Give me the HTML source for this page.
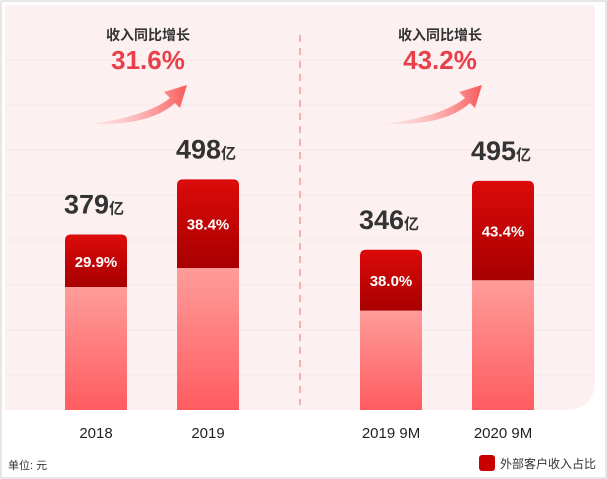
<!DOCTYPE html>
<html><head><meta charset="utf-8"><style>
body{margin:0;width:607px;height:479px;background:#fff;overflow:hidden;font-family:"Liberation Sans","Noto Sans CJK SC",sans-serif}
</style></head><body>
<svg width="607" height="479" style="display:block">
<defs>
<linearGradient id="lo" x1="0" y1="0" x2="0" y2="1"><stop offset="0" stop-color="#ff9c9a"/><stop offset="1" stop-color="#ff5c60"/></linearGradient>
<linearGradient id="hi" x1="0" y1="0" x2="0" y2="1"><stop offset="0" stop-color="#dc0a0a"/><stop offset="1" stop-color="#a80000"/></linearGradient>
<linearGradient id="ar" x1="0" y1="0" x2="1" y2="0"><stop offset="0" stop-color="#ffd0d0" stop-opacity="0.3"/><stop offset="1" stop-color="#f85a5a"/></linearGradient>
</defs>
<rect x="1" y="1" width="605" height="477" fill="none" stroke="#ccc"/>
<path d="M5 5 H595 V380 Q595 410 565 410 H5 Z" fill="#fdf0f0"/>
<g id="grid" stroke="#f9e8e8" stroke-width="1"></g>
<line x1="300" y1="35" x2="300" y2="405" stroke="#f07070" stroke-dasharray="7,6"/>
<g id="bars"></g>
<g>
<text x="148" y="40" text-anchor="middle" font-size="14" font-weight="bold" fill="#333">收入同比增长</text>
<text x="148" y="69" text-anchor="middle" font-size="26" font-weight="bold" fill="#e8404a">31.6%</text>
<path d="M90 124 Q148 116 170 98 L164 92 L187 85 L180 108 L175 103 Q150 126 90 124 Z" fill="url(#ar)"/>
</g>
<g>
<text x="440" y="40" text-anchor="middle" font-size="14" font-weight="bold" fill="#333">收入同比增长</text>
<text x="440" y="69" text-anchor="middle" font-size="26" font-weight="bold" fill="#e8404a">43.2%</text>
<path d="M385 124 Q443 116 465 98 L459 92 L482 85 L475 108 L470 103 Q445 126 385 124 Z" fill="url(#ar)"/>
</g>
<text x="8" y="469" font-size="11" fill="#333">单位: 元</text>
<rect x="479" y="455" width="16" height="16" rx="3" fill="#c80000"/>
<text x="500" y="468" font-size="12" fill="#333">外部客户收入占比</text>
</svg>
<script>
const categories=["2018","2019","2019 9M","2020 9M"];
const totals=[379,498,346,495];
const shares=[29.9,38.4,38.0,43.4];
const xs=[65,177,360,472];const bw=62;const base=410;const k=0.463;
const NS="http://www.w3.org/2000/svg";
function mk(t,a,p){const e=document.createElementNS(NS,t);for(const q in a)e.setAttribute(q,a[q]);p.appendChild(e);return e;}
const g=document.getElementById('bars');const gr=document.getElementById('grid');
for(let y=60;y<410;y+=45){const l=mk('line',{x1:5,x2:595,y1:y,y2:y},gr);}
function yv(v){return base-v*k;}
categories.forEach((c,i)=>{
 const x=xs[i],top=yv(totals[i]),h=base-top,hh=h*shares[i]/100,mid=top+hh;
 const lo=mk('rect',{x:x,y:mid,width:bw,height:base-mid,fill:'url(#lo)'},g);
 
 
 const r=6;
 const hi=mk('path',{d:`M${x} ${mid} V${top+r} Q${x} ${top} ${x+r} ${top} H${x+bw-r} Q${x+bw} ${top} ${x+bw} ${top+r} V${mid} Z`,fill:'url(#hi)'},g);
 
 
 const st=mk('text',{x:x+bw/2,y:mid-hh/2+6,'text-anchor':'middle','font-size':15,'font-weight':'bold',fill:'#fff'},g);
 st.textContent=shares[i].toFixed(1)+'%';
 
 
 const vt=mk('text',{x:x+bw/2-2,y:top-21,'text-anchor':'middle',fill:'#333'},g);
 
 
 const t1=mk('tspan',{'font-size':27,'font-weight':'bold'},vt);t1.textContent=totals[i];
 const t2=mk('tspan',{'font-size':15,'font-weight':'bold'},vt);t2.textContent='亿';
 const ct=mk('text',{x:x+bw/2,y:438,'text-anchor':'middle','font-size':15,fill:'#222'},g);
 ct.textContent=c;
 
 
});
</script>
</body></html>
